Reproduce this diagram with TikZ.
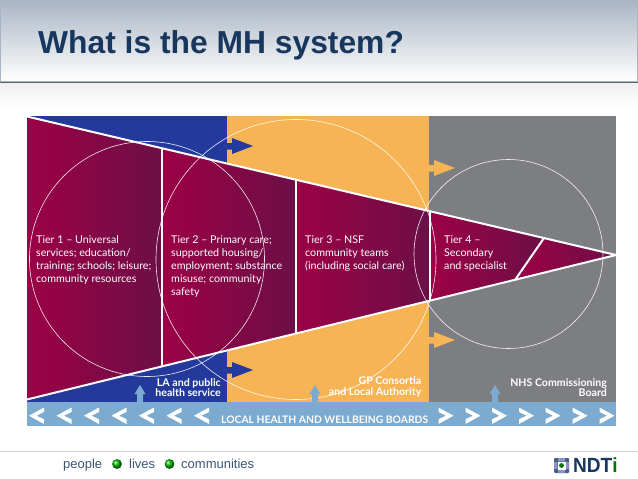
\documentclass[tikz,border=0pt]{standalone}
\usepackage{fontspec}
\setmainfont{Liberation Sans}
\newfontfamily\tierfont{Lato}
\usetikzlibrary{shadings}
\definecolor{navy}{HTML}{17375E}
\definecolor{blueband}{HTML}{233A9C}
\definecolor{orangeband}{HTML}{F7B455}
\definecolor{greyband}{HTML}{7D7E82}
\definecolor{paleblue}{HTML}{7BABD0}
\definecolor{crimson}{HTML}{9C0046}
\definecolor{darkplum}{HTML}{6C0F47}
\definecolor{headtop}{HTML}{A9B5C4}
\definecolor{footline}{HTML}{D4D4D6}
\definecolor{logolilac}{HTML}{8C93C4}
\tikzset{
  x=1pt,y=-1pt,
  tierseg/.style={left color=crimson,right color=darkplum,draw=none},
  divider/.style={draw=white,line width=2pt},
  ring/.style={draw=white,line width=0.6pt,opacity=0.9},
  tierlabel/.style={text=white,font=\tierfont\fontsize{10.7}{13}\selectfont,align=left,anchor=north west,inner sep=0pt},
  banklabel/.style={text=white,font=\tierfont\bfseries\fontsize{10.6}{10.6}\selectfont,align=right,anchor=south east,inner sep=0pt},
  footer/.style={text=navy!85,font=\fontsize{13}{14}\selectfont,anchor=base west,inner sep=0pt},
}
\begin{document}
\begin{tikzpicture}
\useasboundingbox (0,0) rectangle (638,479);
\fill[white] (0,0) rectangle (638,479);
% header
\shade[top color=headtop,bottom color=white] (0,0) rectangle (638,81);
\shade[top color=black!6,bottom color=white] (0,83) rectangle (638,108);
\draw[headtop,line width=0.5pt] (0.3,0.3) rectangle (637.7,81.5);
\draw[draw=black!45!headtop,line width=0.8pt] (0,82) -- (638,82);
\node[anchor=base west,inner sep=0pt,text=navy,font=\bfseries\fontsize{31.8}{34}\selectfont] (title) at (38,53) {What is the MH system?};
% bands
\fill[blueband] (27,116) rectangle (227,402);
\fill[orangeband] (227,116) rectangle (428.5,402);
\fill[greyband] (428.5,116) rectangle (616,402);
% arrows to the right
\fill[blueband] (227,143) -- (232,143) -- (232,138) -- (253,146) -- (232,154) -- (232,149.5) -- (227,149.5) -- cycle;
\fill[blueband] (227,367) -- (232,367) -- (232,362) -- (253,370) -- (232,378) -- (232,373.5) -- (227,373.5) -- cycle;
\fill[orangeband] (428,165) -- (434,165) -- (434,160) -- (455,168) -- (434,176) -- (434,171.5) -- (428,171.5) -- cycle;
\fill[orangeband] (428,337) -- (434,337) -- (434,332) -- (455,340) -- (434,348) -- (434,343.5) -- (428,343.5) -- cycle;
% funnel segments
\shade[tierseg] (27,116.5) -- (161.5,148.7) -- (161.5,366.5) -- (27,399.5) -- cycle;
\shade[tierseg] (161.5,148.7) -- (295.5,180.2) -- (295.5,333.7) -- (161.5,366.5) -- cycle;
\shade[tierseg] (295.5,180.2) -- (429.5,211) -- (429.5,301) -- (295.5,333.7) -- cycle;
\shade[tierseg] (429.5,211) -- (544,238) -- (515,280) -- (429.5,301) -- cycle;
\shade[tierseg] (544,238) -- (616,255) -- (515,280) -- cycle;
% outline
\draw[divider,line join=miter] (27,116.5) -- (616,255) -- (27,399.5);
\draw[divider] (161.5,148.7) -- (161.5,366.5);
\draw[divider] (295.5,180.2) -- (295.5,333.7);
\draw[divider] (429.5,211) -- (429.5,301);
\draw[divider] (544,238) -- (515,280);
% rings
\draw[ring] (147,259) circle (117.5);
\draw[ring] (296,259.5) circle (140);
\draw[ring] (508.5,254) circle (94.5);
% tier text
\node[tierlabel] (t1) at (36,235.5) {Tier 1 – Universal\\services; education/\\training; schools; leisure;\\community resources};
\node[tierlabel] (t2) at (171,235.5) {Tier 2 – Primary care;\\supported housing/\\employment; substance\\misuse; community\\safety};
\node[tierlabel] (t3) at (305,235.5) {Tier 3 – NSF\\community teams\\(including social care)};
\node[tierlabel] (t4) at (444,235.5) {Tier 4 –\\Secondary\\and specialist};
% bottom band
\fill[paleblue] (27,402) rectangle (616,426);
\foreach \x in {140,315,495}{
  \fill[paleblue] (\x-3,403) -- (\x-3,394) -- (\x-5.5,394) -- (\x,385) -- (\x+5.5,394) -- (\x+3,394) -- (\x+3,403) -- cycle;
}
\foreach \x in {29,56.5,84,111.5,139,166.5,194}{
  \fill[white] (\x+15,407.5) -- (\x,415.7) -- (\x+15,424) -- (\x+15,419.3) -- (\x+7.5,415.7) -- (\x+15,412) -- cycle;
}
\foreach \x in {438.5,465.5,492,519,545.5,572.5,599.5}{
  \fill[white] (\x,407.5) -- (\x+15,415.7) -- (\x,424) -- (\x,419.3) -- (\x+7.5,415.7) -- (\x,412) -- cycle;
}
\node[inner sep=0pt,text=white,font=\tierfont\bfseries\fontsize{10.35}{11}\selectfont,anchor=base west] (lhwb) at (221,423) {LOCAL HEALTH AND WELLBEING BOARDS};
\node[banklabel] (la) at (221,397) {LA and public\\health service};
\node[banklabel] (gp) at (421.5,397) {GP Consortia\\and Local Authority};
\node[banklabel] (nhs) at (607,397) {NHS Commissioning\\Board};
% footer
\draw[footline,line width=0.8pt] (0,451) -- (638,451);
\node[footer] (f1) at (63,468.5) {people};
\node[footer] (f2) at (129,468.5) {lives};
\node[footer] (f3) at (181,468.5) {communities};
\shade[ball color=green!70!black] (117,464) circle (4.9);
\shade[ball color=green!70!black] (169.5,464) circle (4.9);
% logo
\node[inner sep=0pt,anchor=base west,text=navy,font=\bfseries\fontsize{20.5}{22}\selectfont,xscale=0.93] (ndti) at (573,472.5) {NDT\textcolor{green!45!black}{i}};
\fill[navy!80,rounded corners=1pt] (554,458) rectangle (569,473);
\fill[logolilac] (558,458) rectangle (565,461.5) (558,469.5) rectangle (565,473) (554,462) rectangle (557.5,469) (565.5,462) rectangle (569,469);
\fill[white] (557.5,461.5) rectangle (565.5,469.5);
\fill[green!45!black] (561.5,465.5) circle (2.4);
\end{tikzpicture}
\end{document}
